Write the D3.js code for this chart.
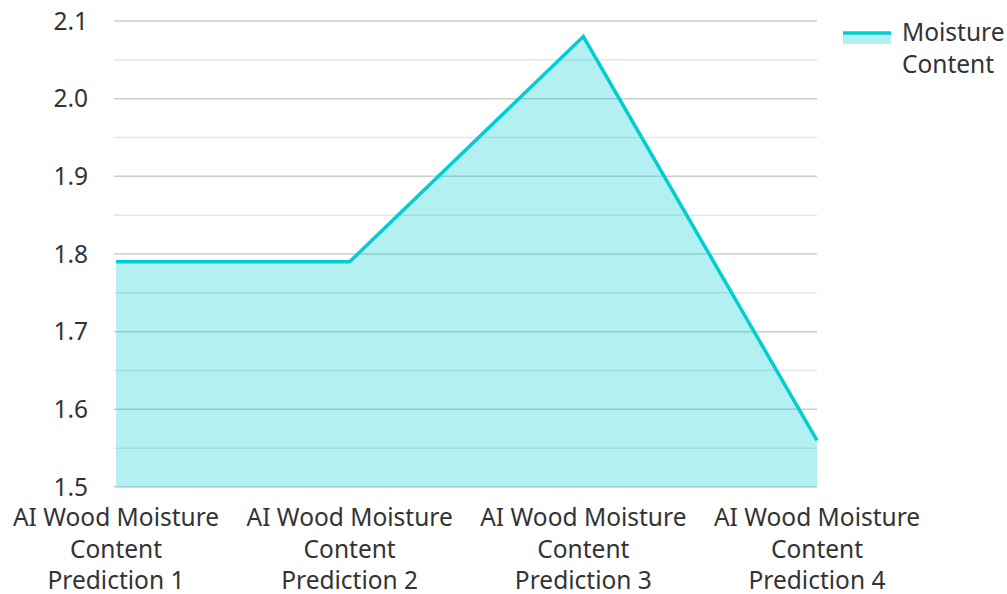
<!DOCTYPE html>
<html>
<head>
<meta charset="utf-8">
<script src="https://cdn.jsdelivr.net/npm/d3@7"></script>
<style>
  html, body { margin: 0; padding: 0; background: #fff; }
  svg text { font-family: "Noto Sans", "Open Sans", sans-serif; fill: #333; }
</style>
</head>
<body>
<svg id="chart" width="1007" height="594"></svg>
<script>
// Predicted wood moisture content per AI model run
const categories = [
  ["AI Wood Moisture", "Content", "Prediction 1"],
  ["AI Wood Moisture", "Content", "Prediction 2"],
  ["AI Wood Moisture", "Content", "Prediction 3"],
  ["AI Wood Moisture", "Content", "Prediction 4"]
];
const moisture = [1.79, 1.79, 2.08, 1.56];
const yTicks = [1.5, 1.6, 1.7, 1.8, 1.9, 2.0, 2.1];
const yMinorTicks = [1.55, 1.65, 1.75, 1.85, 1.95, 2.05];
const seriesName = ["Moisture", "Content"];

const svg = d3.select("#chart");
const plot = { left: 116, right: 817, top: 21, bottom: 487 };
const fontSize = 24.5;

const x = d3.scalePoint().domain(d3.range(categories.length)).range([plot.left, plot.right]).padding(0);
const y = d3.scaleLinear().domain([1.5, 2.1]).range([plot.bottom, plot.top]);

// gridlines
svg.append("g").selectAll("line").data(yMinorTicks).join("line")
  .attr("x1", plot.left - 2).attr("x2", plot.right)
  .attr("y1", d => y(d)).attr("y2", d => y(d))
  .attr("stroke", "#e6e6e6").attr("stroke-width", 1.5);
svg.append("g").selectAll("line").data(yTicks).join("line")
  .attr("x1", plot.left - 2).attr("x2", plot.right)
  .attr("y1", d => y(d)).attr("y2", d => y(d))
  .attr("stroke", "#cccccc").attr("stroke-width", 1.5);

// y tick labels
svg.append("g").selectAll("text").data(yTicks).join("text")
  .attr("x", 88).attr("y", d => y(d)).attr("dy", "0.36em")
  .attr("text-anchor", "end").attr("font-size", fontSize)
  .text(d => d3.format(".1f")(d));

// area + line
const area = d3.area().x((d, i) => x(i)).y0(y(1.5)).y1(d => y(d));
const line = d3.line().x((d, i) => x(i)).y(d => y(d));
svg.append("path").datum(moisture).attr("d", area)
  .attr("fill", "rgb(0,206,209)").attr("fill-opacity", 0.3);
svg.append("path").datum(moisture).attr("d", line)
  .attr("fill", "none").attr("stroke", "#00CED1").attr("stroke-width", 3.5)
  .attr("stroke-linejoin", "miter");

// x category labels
const xl = svg.append("g").selectAll("text").data(categories).join("text")
  .attr("text-anchor", "middle").attr("font-size", fontSize)
  .attr("transform", (d, i) => `translate(${x(i)},0)`);
xl.selectAll("tspan").data(d => d).join("tspan")
  .attr("x", 0).attr("y", (d, j) => 526 + j * 31.5)
  .text(d => d);

// legend
const lg = svg.append("g");
lg.append("rect").attr("x", 843).attr("y", 32).attr("width", 48).attr("height", 12)
  .attr("fill", "rgb(0,206,209)").attr("fill-opacity", 0.3);
lg.append("line").attr("x1", 843).attr("x2", 891).attr("y1", 33).attr("y2", 33)
  .attr("stroke", "#00CED1").attr("stroke-width", 3.5);
lg.append("text").attr("font-size", fontSize).selectAll("tspan").data(seriesName).join("tspan")
  .attr("x", 902).attr("y", (d, j) => 41 + j * 32).text(d => d);
</script>
</body>
</html>
